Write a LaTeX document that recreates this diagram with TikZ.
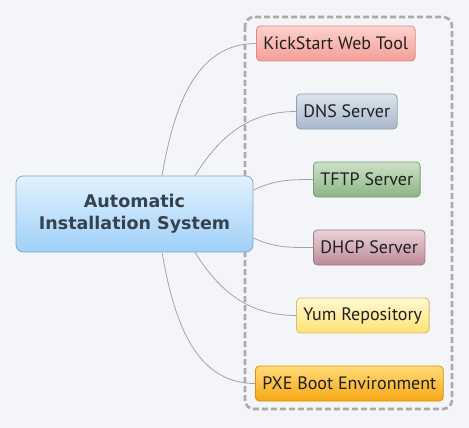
\documentclass[tikz,border=0pt]{standalone}
\usepackage{fontspec}
\setmainfont{PT Sans}
\newfontfamily\hubfont{DejaVu Sans}
\usetikzlibrary{positioning}
\usetikzlibrary{calc}
\definecolor{bgcol}{HTML}{F4F5F8}
\definecolor{linkcol}{HTML}{A4A4A8}
\definecolor{framecol}{HTML}{ABABAB}
\definecolor{systop}{HTML}{E2F1FE}
\definecolor{sysbot}{HTML}{9FD0F8}
\definecolor{sysdraw}{HTML}{7FA8CC}
\definecolor{systext}{HTML}{36434F}
\definecolor{kicktop}{HTML}{FDD2CE}
\definecolor{kickbot}{HTML}{F49D96}
\definecolor{kickdraw}{HTML}{D98A84}
\definecolor{dnstop}{HTML}{DCE4EE}
\definecolor{dnsbot}{HTML}{A7B7CB}
\definecolor{dnsdraw}{HTML}{8E9FB4}
\definecolor{tftptop}{HTML}{CDE2C8}
\definecolor{tftpbot}{HTML}{8CB484}
\definecolor{tftpdraw}{HTML}{7C9C74}
\definecolor{dhcptop}{HTML}{EAD2D9}
\definecolor{dhcpbot}{HTML}{BC8A98}
\definecolor{dhcpdraw}{HTML}{A07884}
\definecolor{yumtop}{HTML}{FFF9D2}
\definecolor{yumbot}{HTML}{FFE174}
\definecolor{yumdraw}{HTML}{D6BE6A}
\definecolor{pxetop}{HTML}{FFDB78}
\definecolor{pxebot}{HTML}{F7A714}
\definecolor{pxedraw}{HTML}{D4920E}
\newcommand{\toollabel}[1]{
	\fontsize{18}{21}\selectfont\textcolor{black!88}{#1}
}

\begin{document}
\begin{tikzpicture}[
	tool/.style={draw=#1draw, top color=#1top, bottom color=#1bot, rounded corners=4pt,
		anchor=west, minimum height=35pt, inner xsep=7pt, inner ysep=0pt, line width=0.8pt},
	link/.style={draw=linkcol, line width=0.8pt}
]

\fill[bgcol] (0pt,0pt) rectangle (469pt,-428pt);
\useasboundingbox (0pt,0pt) rectangle (469pt,-428pt);

\draw[framecol, line width=2.6pt, dash pattern=on 6pt off 3pt, rounded corners=9pt]
	(245pt,-17pt) rectangle (452pt,-409pt);

\node[draw=sysdraw, top color=systop, bottom color=sysbot, rounded corners=7pt,
	minimum width=237pt, minimum height=76pt, align=center, line width=0.8pt,
	font=\hubfont\fontsize{17.5}{22}\selectfont\bfseries, text=systext]
	(sys) at (134.5pt,-214pt) {Automatic\\Installation System};

\foreach \name/\x/\y/\txt in {kick/256/43.5/KickStart Web Tool, dns/296/111.5/DNS Server,
	tftp/313/179.5/TFTP Server, dhcp/313/247.5/DHCP Server,
	yum/296/315.5/Yum Repository, pxe/255/383.5/PXE Boot Environment}
	\node[tool=\name] (\name) at (\x pt,-\y pt) {\toollabel{\txt}};

\draw[link] ($(sys.north)+(27.5pt,0)$) to[out=80, in=180] (kick.west);
\draw[link] ($(sys.north)+(60.5pt,0)$) to[out=58, in=180] (dns.west);
\draw[link] ($(sys.east)+(0,24pt)$) to[out=25, in=180] (tftp.west);
\draw[link] ($(sys.east)+(0,-24pt)$) to[out=-25, in=180] (dhcp.west);
\draw[link] ($(sys.south)+(60.5pt,0)$) to[out=-58, in=180] (yum.west);
\draw[link] ($(sys.south)+(27.5pt,0)$) to[out=-80, in=180] (pxe.west);

\end{tikzpicture}
\end{document}
